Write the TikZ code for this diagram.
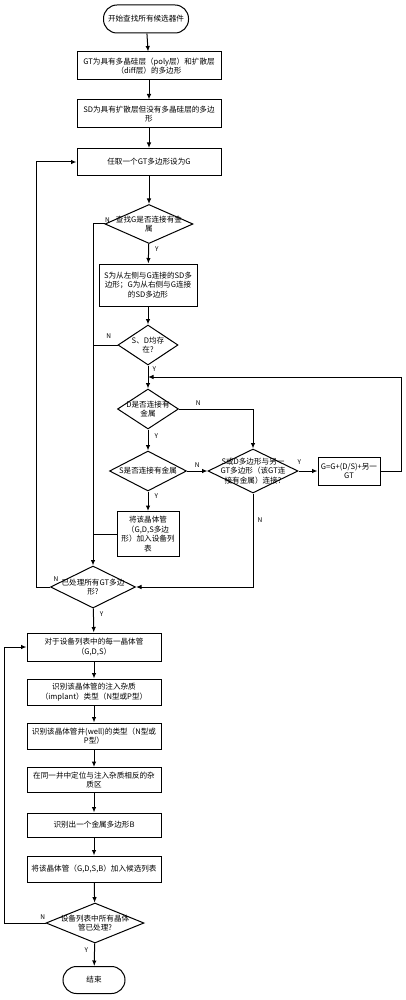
\documentclass[tikz,border=0pt]{standalone}
\usepackage{fontspec}
\newfontfamily\cjk{Noto Sans CJK SC}
\usetikzlibrary{arrows.meta,shapes.geometric,calc}

\begin{document}
\begin{tikzpicture}[x=1pt, y=-1pt,
    every node/.style={font=\cjk\fontsize{7.6}{9.4}\selectfont},
    proc/.style={draw, line width=1pt, rectangle, align=center,
                 inner sep=1pt, minimum height=28},
    term/.style={draw, line width=1pt, rectangle, rounded corners=13.5,
                 align=center, minimum height=28},
    decide/.style 2 args={draw, line width=1pt, diamond, minimum width=#1,
                 minimum height=#2, inner sep=0pt},
    dtext/.style={align=center, inner sep=0pt},
    arr/.style={line width=1pt, -{Latex[length=5.5pt,width=4.5pt]}},
    line/.style={line width=1pt},
    yn/.style={font=\cjk\fontsize{6.5}{7}\selectfont, inner sep=1pt}]
  \useasboundingbox (0,0) rectangle (406,1000);

  % first pass: find transistors
  \node[term, minimum width=85] (start) at (146,19) {开始查找所有候选器件};
  \node[proc, minimum width=144] (gt) at (149,66)
    {GT为具有多晶硅层（poly层）和扩散层\\（diff层）的多边形};
  \node[proc, minimum width=144] (sd) at (149,114)
    {SD为具有扩散层但没有多晶硅层的多边\\形};
  \node[proc, minimum width=144, minimum height=27] (pick) at (149,162)
    {任取一个GT多边形设为G};
  \node[decide={88}{39}, label={[dtext]center:查找G是否连接有金\\属}]
    (findm) at (149,224) {};
  \node[proc, minimum width=98, minimum height=42] (sdpair) at (148,285)
    {S为从左侧与G连接的SD多\\边形；G为从右侧与G连接\\的SD多边形};
  \node[decide={60}{40}, label={[dtext]center:S、D均存\\在?}]
    (exist) at (148,345) {};
  \node[decide={61}{40}, label={[dtext]center:D是否连接有\\金属}]
    (dmet) at (148,409) {};
  \node[decide={77}{40}, label={[dtext]center:S是否连接有金属}]
    (smet) at (148,471) {};
  \node[decide={90}{44}, label={[dtext]center:S或D多边形与另一\\GT多边形（该GT连\\接有金属）连接?}]
    (other) at (253,471) {};
  \node[proc, minimum width=62] (merge) at (349,471)
    {G=G+(D/S)+另一\\GT};
  \node[proc, minimum width=62, minimum height=45] (adddev) at (148,534)
    {将该晶体管\\（G,D,S多边\\形）加入设备列\\表};
  \node[decide={85}{42}, label={[dtext]center:已处理所有GT多边\\形?}]
    (allgt) at (93,587) {};

  % second pass: candidates
  \node[proc, minimum width=134] (each) at (94,647)
    {对于设备列表中的每一晶体管\\（G,D,S）};
  \node[proc, minimum width=134, minimum height=26] (impl) at (94,692)
    {识别该晶体管的注入杂质\\（implant）类型（N型或P型）};
  \node[proc, minimum width=134, minimum height=26] (well) at (94,736)
    {识别该晶体管井(well)的类型（N型或\\P型）};
  \node[proc, minimum width=134, minimum height=25] (oppo) at (94,780)
    {在同一井中定位与注入杂质相反的杂\\质区};
  \node[proc, minimum width=134, minimum height=24] (metb) at (94,825)
    {识别出一个金属多边形B};
  \node[proc, minimum width=134, minimum height=26] (cand) at (94,869)
    {将该晶体管（G,D,S,B）加入候选列表};
  \node[decide={98}{40}, label={[dtext]center:设备列表中所有晶体\\管已处理?}]
    (alldev) at (95,923) {};
  \node[term, minimum width=62, minimum height=27] (stop) at (94,980) {结束};

  \coordinate (back) at (148,377);

  % connectors
  \draw[arr] (start) -- (gt);
  \draw[arr] (gt) -- (sd);
  \draw[arr] (sd) -- (pick);
  \draw[arr] (pick) -- (findm);
  \draw[arr] (findm) -- node[yn, pos=0.25, right=5pt] {Y} (sdpair);
  \draw[arr] (findm.west) node[yn, above right, xshift=-1pt] {N} -| (allgt.north);
  \draw[arr] (sdpair) -- (exist);
  \draw[line] (exist.west) node[yn, above left=5pt] {N} -- (exist.west -| allgt.north);
  \draw[arr] (exist) -- node[yn, pos=0.15, right=3pt] {Y} (dmet);
  \draw[arr] (dmet) -- node[yn, pos=0.3, right=5pt] {Y} (smet);
  \draw[arr] (dmet.east) -| node[yn, pos=0.13, above=2pt] {N} (other.north);
  \draw[arr] (smet.east) -- node[yn, above=2pt] {N} (other.west);
  \draw[arr] (smet) -- node[yn, pos=0.25, right=5pt] {Y} (adddev);
  \draw[arr] (other.east) -- node[yn, pos=0.05, above=5pt] {Y} (merge.west);
  \draw[arr] (merge.east) -- ++(21,0) |- (back);
  \draw[arr] (other.south) |- node[yn, pos=0.14, right=3pt] {N} (allgt.east);
  \draw[line] (adddev.west) -- (adddev.west -| allgt.north);
  \draw[arr] (allgt.west) node[yn, above right=4pt, xshift=-2pt] {N} -- ++(-14,0) |- (pick.west);
  \draw[arr] (allgt) -- node[yn, pos=0.25, right=5pt] {Y} (each);
  \draw[arr] (each) -- (impl);
  \draw[arr] (impl) -- (well);
  \draw[arr] (well) -- (oppo);
  \draw[arr] (oppo) -- (metb);
  \draw[arr] (metb) -- (cand);
  \draw[arr] (cand) -- (alldev);
  \draw[arr] (alldev.west) node[yn, above left=2pt, xshift=3pt] {N} -- ++(-41,0) |- (each.west);
  \draw[arr] (alldev) -- node[yn, pos=0.3, left=5pt] {Y} (stop);
\end{tikzpicture}
\end{document}
